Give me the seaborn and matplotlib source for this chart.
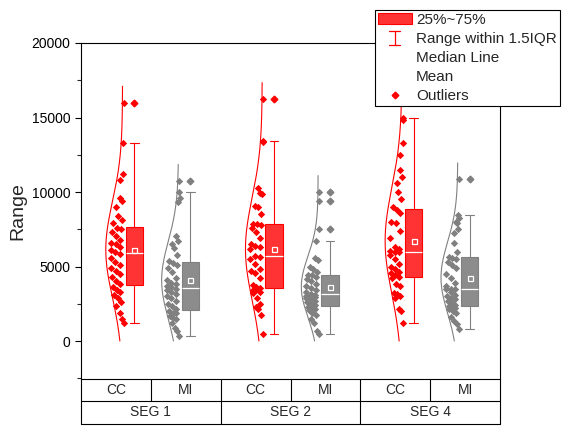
import numpy as np
import pandas as pd
import seaborn as sns
import matplotlib
matplotlib.use("Agg")
import matplotlib.pyplot as plt
from matplotlib.patches import Patch
from matplotlib.lines import Line2D
from matplotlib.legend_handler import HandlerBase
from matplotlib.ticker import MultipleLocator

segments = ["SEG 1", "SEG 2", "SEG 4"]
methods = ["CC", "MI"]

# values (40 per group)
seg1_cc = [1200, 1500, 1900, 2350, 2600, 2900, 3100, 3300, 3450, 3600,
           3800, 4000, 4300, 4500, 4700, 4900, 5100, 5300, 5600, 5850,
           5950, 6100, 6300, 6500, 6550, 6800, 7050, 7300, 7500, 7600,
           7900, 8100, 8400, 9000, 9400, 9600, 10800, 11200, 13300, 16000]
seg1_mi = [330, 700, 900, 1200, 1450, 1550, 1700, 1850, 1900, 2000,
           2150, 2350, 2500, 2700, 2900, 3000, 3150, 3300, 3400, 3500,
           3600, 3700, 3800, 3900, 4100, 4250, 4600, 4900, 5100, 5250,
           5400, 5800, 6250, 6500, 6700, 7050, 9300, 9600, 10000, 10750]
seg2_cc = [470, 1740, 2150, 2300, 2480, 2900, 3220, 3300, 3400, 3450,
           3550, 3650, 3760, 4250, 4560, 4700, 4830, 5200, 5520, 5650,
           5700, 6170, 6300, 6400, 6500, 6900, 7300, 7600, 7800, 7830,
           7850, 8500, 8970, 9060, 9850, 9930, 10290, 13380, 13400, 16240]
seg2_mi = [470, 700, 1190, 1500, 1760, 1900, 2050, 2150, 2250, 2300,
           2400, 2500, 2600, 2700, 2800, 2900, 2950, 3000, 3050, 3100,
           3160, 3300, 3450, 3550, 3700, 3850, 4000, 4150, 4300, 4400,
           4450, 4600, 4810, 5000, 5440, 5590, 6690, 7540, 9400, 10000]
seg4_cc = [1190, 2010, 2150, 2880, 3000, 3150, 3200, 3690, 3850, 4200,
           4300, 4450, 4560, 4600, 4830, 5000, 5200, 5500, 5800, 5950,
           6000, 6040, 6170, 6300, 6890, 7380, 7900, 8000, 8600, 8800,
           9000, 9500, 10000, 10600, 11000, 11500, 12500, 13290, 14800, 14940]
seg4_mi = [800, 1140, 1340, 1600, 1900, 2000, 2150, 2200, 2300, 2320,
           2400, 2550, 2700, 2820, 2900, 3020, 3100, 3300, 3490, 3500,
           3520, 3690, 3900, 4250, 4500, 4900, 5100, 5300, 5500, 5600,
           5650, 6000, 6600, 7250, 7500, 7900, 8000, 8250, 8430, 10850]

groups = {("SEG 1", "CC"): seg1_cc, ("SEG 1", "MI"): seg1_mi,
          ("SEG 2", "CC"): seg2_cc, ("SEG 2", "MI"): seg2_mi,
          ("SEG 4", "CC"): seg4_cc, ("SEG 4", "MI"): seg4_mi}

line_col = {"CC": "#FF0000", "MI": "#808080"}
fill_col = {"CC": "#FF3333", "MI": "#8C8C8C"}
box_shift = {"CC": 0.265, "MI": 0.065}

rows = []
for s, seg in enumerate(segments):
    for m, meth in enumerate(methods):
        cell = 2 * s + m
        for v in groups[(seg, meth)]:
            rows.append({"segment": seg, "method": meth, "value": v,
                         "cell": cell, "box_x": cell + box_shift[meth]})
df = pd.DataFrame(rows)

sns.set_style("ticks")
plt.rcParams["font.family"] = ["Liberation Sans", "DejaVu Sans"]

fig = plt.figure(figsize=(5.69, 4.41), dpi=100)
ax = fig.add_axes([81 / 569, 62 / 441, 419 / 569, 336 / 441])

# half "violin" curves with the points inside
golden = 0.6180339887
for (seg, meth), vals in groups.items():
    sub = df[(df.segment == seg) & (df.method == meth)]
    base = sub.box_x.iloc[0] - 0.17
    mu, sd = np.mean(vals), np.std(vals, ddof=1)
    yy = np.linspace(0, max(vals) + 1100, 200)
    ww = 0.24 * np.exp(-0.5 * ((yy - mu) / sd) ** 2)
    ax.plot(base - ww, yy, color=line_col[meth], lw=0.8, zorder=2)
    v = sub.value.to_numpy()
    frac = 0.08 + 0.84 * ((np.arange(len(v)) * golden * 7) % 1)
    px = base + 0.02 - frac * 0.24 * np.exp(-0.5 * ((v - mu) / sd) ** 2)
    sns.scatterplot(x=px, y=v, marker="D", s=14, color=line_col[meth],
                    linewidth=0, ax=ax, zorder=3, legend=False)

for meth in methods:
    sub = df[df.method == meth]
    sns.boxplot(data=sub, x="box_x", y="value", native_scale=True, orient="x",
                width=0.125, color=fill_col[meth], linecolor=line_col[meth],
                linewidth=0.8, saturation=1, showmeans=True,
                meanprops={"marker": "s", "markerfacecolor": "none",
                           "markeredgecolor": "white", "markersize": 3.6,
                           "markeredgewidth": 0.9},
                medianprops={"color": "white", "linewidth": 0.9},
                flierprops={"marker": "D", "markerfacecolor": line_col[meth],
                            "markeredgecolor": line_col[meth], "markersize": 3.4},
                ax=ax, zorder=4)

ax.set_xlim(-0.5, 5.5)
ax.set_ylim(-2550, 20000)
ax.set_xticks([])
ax.set_xlabel("")
ax.set_ylabel("Range", fontsize=14, labelpad=4)
ax.yaxis.set_major_locator(MultipleLocator(5000))
ax.yaxis.set_minor_locator(MultipleLocator(2500))
ax.tick_params(axis="y", which="major", length=4.5, width=0.8, labelsize=10,
               pad=3, colors="black")
ax.tick_params(axis="y", which="minor", length=3, width=0.8)
for sp in ax.spines.values():
    sp.set_visible(True)
    sp.set_color("black")
    sp.set_linewidth(0.8)

# two-level category table under the axes
h1, h2 = 22 / 336, 23 / 336
kw = dict(transform=ax.transAxes, clip_on=False, color="black", lw=0.8)
for yv in (-h1, -h1 - h2):
    ax.plot([0, 1], [yv, yv], **kw)
for xv in (0, 2 / 6, 4 / 6, 1):
    ax.plot([xv, xv], [0, -h1 - h2], **kw)
for xv in (1 / 6, 3 / 6, 5 / 6):
    ax.plot([xv, xv], [0, -h1], **kw)
for s, seg in enumerate(segments):
    for m, meth in enumerate(methods):
        ax.text((2 * s + m + 0.5) / 6, -h1 / 2, meth, transform=ax.transAxes,
                ha="center", va="center", fontsize=10)
    ax.text((2 * s + 1) / 6, -h1 - h2 / 2, seg, transform=ax.transAxes,
            ha="center", va="center", fontsize=10)


class HandlerRange(HandlerBase):
    def create_artists(self, legend, orig_handle, xdescent, ydescent,
                       width, height, fontsize, trans):
        cx = width / 2 - xdescent
        y0, y1 = -ydescent - 0.2 * height, height - ydescent + 0.15 * height
        cw = 0.16 * width
        arts = [Line2D([cx, cx], [y0, y1]),
                Line2D([cx - cw, cx + cw], [y0, y0]),
                Line2D([cx - cw, cx + cw], [y1, y1])]
        for a in arts:
            a.set_color("#FF0000")
            a.set_linewidth(0.9)
            a.set_transform(trans)
        return arts


range_handle = Line2D([], [], color="#FF0000")
handles = [Patch(facecolor="#FF3333", edgecolor="#FF0000", lw=0.8),
           range_handle,
           Line2D([], [], color="white"),
           Line2D([], [], color="white", marker="s", linestyle=""),
           Line2D([], [], color="#FF0000", marker="D", markersize=3.4,
                  linestyle="")]
labels = ["25%~75%", "Range within 1.5IQR", "Median Line", "Mean", "Outliers"]
leg = ax.legend(handles, labels, loc="upper right",
                bbox_to_anchor=(560 / 569, 1 - 10 / 441),
                bbox_transform=fig.transFigure, fontsize=11, frameon=True,
                fancybox=False, framealpha=1, edgecolor="black",
                borderpad=0.2, labelspacing=0.33, handlelength=2.2,
                handletextpad=0.3, borderaxespad=0,
                handler_map={range_handle: HandlerRange()})
leg.get_frame().set_linewidth(0.8)
leg.set_zorder(10)

fig.savefig("out.png", dpi=100)
